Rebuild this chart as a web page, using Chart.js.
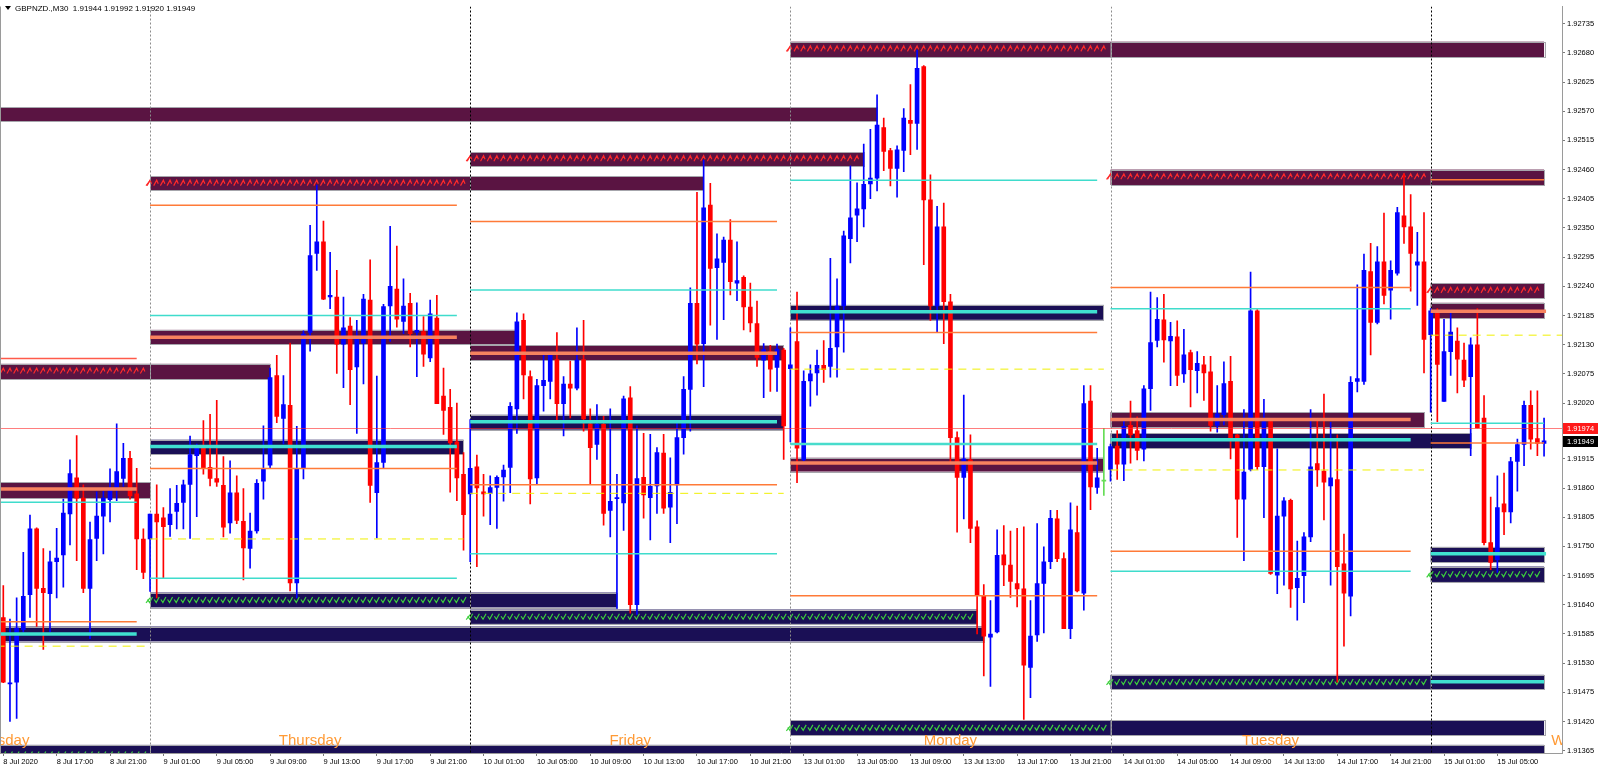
<!DOCTYPE html>
<html>
<head>
<meta charset="utf-8">
<script src="https://cdn.jsdelivr.net/npm/chart.js@4.4.1/dist/chart.umd.min.js"></script>
<style>
  html, body { margin: 0; padding: 0; background: #fff; }
  canvas { display: block; }
</style>
</head>
<body>
<canvas id="chart" width="1600" height="771"></canvas>
<script>
// GBPNZD M30, 8 Jul 13:00 .. 15 Jul 08:30 (bar index 0..231)
const symbol = 'GBPNZD.,M30';

const opens = [
1.91616,1.91491,1.91494,1.91593,1.91659,1.91783,1.91671,1.91661,1.91721,1.91734,
1.91811,1.91879,1.91841,1.91671,1.91765,1.91807,1.91838,1.91859,1.91878,1.91916,
1.91849,1.91764,1.91764,1.91811,1.91804,1.91791,1.91816,1.91833,1.91867,1.91921,
1.91939,1.91899,1.91878,1.91865,1.91794,1.91851,1.91797,1.91746,1.91779,1.91873,
1.91903,1.92072,1.91991,1.92016,1.91681,1.91897,1.92153,1.92302,1.92324,1.92220,
1.92220,1.92131,1.92165,1.92088,1.92133,1.92214,1.91851,1.91908,1.92203,1.92235,
1.92174,1.92208,1.92153,1.92155,1.92105,1.92180,1.92033,1.92012,1.91947,1.91886,
1.91849,1.91900,1.91853,1.91850,1.91861,1.91881,1.91899,1.92009,1.92176,1.92070,
1.91879,1.92053,1.92061,1.92102,1.92019,1.92056,1.92048,1.92102,1.91981,1.91942,
1.91980,1.91818,1.91840,1.91832,1.92030,1.91640,1.91880,1.91842,1.91864,1.91926,
1.91824,1.91866,1.91955,1.92046,1.92208,1.92132,1.92393,1.92275,1.92285,1.92327,
1.92246,1.92257,1.92201,1.92170,1.92101,1.92117,1.92087,1.92120,1.92085,1.92136,
1.91913,1.92062,1.92077,1.92091,1.92089,1.92126,1.92203,1.92330,1.92374,1.92386,
1.92433,1.92444,1.92539,1.92496,1.92462,1.92496,1.92553,1.92547,1.92654,1.92403,
1.92203,1.92352,1.92211,1.91955,1.91880,1.91913,1.91787,1.91656,1.91579,1.91589,
1.91734,1.91715,1.91680,1.91670,1.91522,1.91583,1.91680,1.91721,1.91802,1.91727,
1.91595,1.91776,1.91662,1.92024,1.91861,1.91873,1.91895,1.91939,1.91905,1.91978,
1.91968,1.91933,1.92047,1.92138,1.92177,1.92137,1.92145,1.92075,1.92115,1.92081,
1.92092,1.92079,1.91978,1.91998,1.92061,1.91960,1.91839,1.91895,1.92194,1.91900,
1.91985,1.91696,1.91807,1.91837,1.91672,1.91695,1.91768,1.91906,1.91892,1.91864,
1.91876,1.91717,1.91656,1.92061,1.92061,1.92268,1.92172,1.92286,1.92233,1.92265,
1.92373,1.92352,1.92280,1.92286,1.92149,1.92194,1.92023,1.92117,1.92137,1.92101,
1.92070,1.92130,1.91992,1.91757,1.91725,1.91830,1.91815,1.91910,1.91942,1.92016,
1.91953,1.91944
];
const highs = [
1.91676,1.91613,1.91653,1.91739,1.91809,1.91785,1.91746,1.91741,1.91784,1.91839,
1.91913,1.91959,1.91866,1.91796,1.91853,1.91854,1.91896,1.91981,1.91944,1.91929,
1.91897,1.91783,1.91811,1.91866,1.91823,1.91859,1.91865,1.91875,1.91958,1.91943,
1.91987,1.91999,1.92025,1.91919,1.91911,1.91883,1.91859,1.91813,1.91876,1.91977,
1.92086,1.92110,1.92072,1.92133,1.91976,1.92156,1.92355,1.92431,1.92363,1.92304,
1.92270,1.92220,1.92181,1.92176,1.92225,1.92290,1.92071,1.92206,1.92353,1.92316,
1.92254,1.92227,1.92209,1.92183,1.92214,1.92223,1.92086,1.92046,1.92020,1.91927,
1.91989,1.91922,1.91886,1.91883,1.91883,1.91903,1.92021,1.92190,1.92188,1.92081,
1.92065,1.92110,1.92114,1.92153,1.92070,1.92099,1.92162,1.92176,1.92009,1.92017,
1.91995,1.92009,1.91886,1.92033,1.92051,1.91977,1.91963,1.91961,1.91936,1.91961,
1.91917,1.91983,1.92070,1.92237,1.92417,1.92478,1.92434,1.92339,1.92333,1.92366,
1.92324,1.92260,1.92246,1.92212,1.92132,1.92129,1.92131,1.92123,1.92162,1.92229,
1.92081,1.92092,1.92120,1.92138,1.92293,1.92254,1.92344,1.92467,1.92435,1.92508,
1.92536,1.92601,1.92557,1.92500,1.92505,1.92575,1.92620,1.92685,1.92656,1.92450,
1.92391,1.92397,1.92225,1.91966,1.92035,1.91960,1.91798,1.91678,1.91648,1.91781,
1.91789,1.91779,1.91784,1.91787,1.91648,1.91793,1.91749,1.91818,1.91818,1.91738,
1.91832,1.91826,1.92053,1.92053,1.91935,1.91972,1.91943,1.91968,1.91988,1.92024,
1.91994,1.92053,1.92229,1.92219,1.92225,1.92172,1.92175,1.92159,1.92120,1.92117,
1.92108,1.92108,1.92053,1.92098,1.92108,1.91961,1.92008,1.92267,1.92196,1.92027,
1.91987,1.91934,1.91842,1.91839,1.91760,1.91776,1.92008,1.91987,1.92037,1.91984,
1.91960,1.91773,1.92070,1.92243,1.92301,1.92321,1.92315,1.92378,1.92288,1.92389,
1.92452,1.92413,1.92342,1.92379,1.92198,1.92198,1.92178,1.92190,1.92162,1.92133,
1.92143,1.92198,1.92034,1.91843,1.91883,1.91888,1.91918,1.91952,1.92024,1.92043,
1.92043,1.91992
];
const lows = [
1.91493,1.91420,1.91426,1.91589,1.91616,1.91599,1.91556,1.91589,1.91653,1.91673,
1.91753,1.91723,1.91663,1.91576,1.91723,1.91736,1.91796,1.91836,1.91863,1.91839,
1.91706,1.91689,1.91665,1.91653,1.91689,1.91769,1.91783,1.91783,1.91765,1.91806,
1.91886,1.91864,1.91863,1.91768,1.91775,1.91793,1.91687,1.91709,1.91775,1.91839,
1.91898,1.91983,1.91943,1.91666,1.91653,1.91877,1.92118,1.92270,1.92215,1.92198,
1.92076,1.92049,1.92017,1.91963,1.92056,1.91833,1.91766,1.91897,1.92136,1.92163,
1.92151,1.92126,1.92070,1.92089,1.92098,1.92019,1.91961,1.91852,1.91836,1.91743,
1.91721,1.91712,1.91807,1.91791,1.91784,1.91835,1.91851,1.91963,1.92028,1.91830,
1.91868,1.92005,1.92028,1.91988,1.91958,1.91992,1.92045,1.91967,1.91868,1.91914,
1.91790,1.91768,1.91633,1.91780,1.91624,1.91622,1.91803,1.91762,1.91812,1.91812,
1.91757,1.91793,1.91924,1.91967,1.92094,1.92051,1.92167,1.92140,1.92177,1.92224,
1.92213,1.92158,1.92154,1.92089,1.92030,1.92042,1.92042,1.91914,1.91947,1.91870,
1.91911,1.92014,1.92035,1.92059,1.92069,1.92069,1.92116,1.92284,1.92324,1.92352,
1.92405,1.92420,1.92458,1.92429,1.92408,1.92456,1.92488,1.92498,1.92281,1.92176,
1.92154,1.92132,1.91907,1.91777,1.91802,1.91757,1.91585,1.91506,1.91486,1.91587,
1.91676,1.91654,1.91636,1.91424,1.91465,1.91571,1.91587,1.91708,1.91721,1.91595,
1.91576,1.91664,1.91630,1.91819,1.91850,1.91846,1.91873,1.91876,1.91874,1.91907,
1.91913,1.91911,1.92006,1.92126,1.92097,1.92053,1.92053,1.92059,1.92013,1.92039,
1.92025,1.91967,1.91965,1.91979,1.91915,1.91767,1.91723,1.91892,1.91895,1.91804,
1.91697,1.91661,1.91677,1.91635,1.91611,1.91644,1.91759,1.91863,1.91800,1.91677,
1.91494,1.91562,1.91619,1.92041,1.92055,1.92111,1.92169,1.92207,1.92178,1.92261,
1.92321,1.92231,1.92204,1.92077,1.92003,1.91985,1.92023,1.92072,1.92039,1.92051,
1.91921,1.91973,1.91753,1.91706,1.91701,1.91772,1.91794,1.91854,1.91902,1.91933,
1.91921,1.91920
];
const closes = [
1.91494,1.91493,1.91596,1.91656,1.91783,1.91671,1.91663,1.91721,1.91728,1.91813,
1.91887,1.91841,1.91671,1.91763,1.91807,1.91841,1.91859,1.91891,1.91916,1.91845,
1.91764,1.91701,1.91811,1.91796,1.91787,1.91811,1.91831,1.91866,1.91923,1.91939,
1.91897,1.91878,1.91871,1.91786,1.91851,1.91799,1.91747,1.91779,1.91869,1.91896,
1.92068,1.91995,1.92017,1.91681,1.91897,1.92150,1.92298,1.92324,1.92216,1.92223,
1.92131,1.92162,1.92083,1.92140,1.92216,1.91865,1.91908,1.92202,1.92240,1.92178,
1.92203,1.92151,1.92157,1.92112,1.92188,1.92019,1.92006,1.91945,1.91879,1.91810,
1.91897,1.91860,1.91849,1.91861,1.91880,1.91894,1.92014,1.92173,1.92073,1.91877,
1.92053,1.92063,1.92110,1.92019,1.92056,1.92048,1.92101,1.91990,1.91936,1.91980,
1.91812,1.91835,1.91841,1.92028,1.91640,1.91878,1.91847,1.91863,1.91927,1.91822,
1.91852,1.91955,1.92046,1.92208,1.92131,1.92388,1.92274,1.92292,1.92327,1.92249,
1.92251,1.92201,1.92171,1.92106,1.92121,1.92084,1.92122,1.91977,1.92092,1.91935,
1.92061,1.92075,1.92091,1.92083,1.92123,1.92203,1.92335,1.92369,1.92386,1.92432,
1.92444,1.92544,1.92494,1.92462,1.92497,1.92557,1.92547,1.92651,1.92403,1.92203,
1.92352,1.92211,1.91955,1.91880,1.91915,1.91784,1.91657,1.91581,1.91585,1.91733,
1.91715,1.91684,1.91670,1.91526,1.91581,1.91680,1.91721,1.91803,1.91727,1.91595,
1.91781,1.91666,1.92019,1.91862,1.91879,1.91873,1.91938,1.91905,1.91976,1.91960,
1.91931,1.92047,1.92134,1.92178,1.92139,1.92146,1.92072,1.92111,1.92083,1.92095,
1.92077,1.91978,1.92000,1.92057,1.91953,1.91839,1.91890,1.92194,1.91900,1.91985,
1.91699,1.91807,1.91836,1.91670,1.91690,1.91768,1.91900,1.91894,1.91871,1.91879,
1.91712,1.91662,1.92059,1.92066,1.92270,1.92172,1.92286,1.92223,1.92270,1.92379,
1.92352,1.92302,1.92286,1.92140,1.92194,1.92093,1.92117,1.92154,1.92103,1.92063,
1.92130,1.91973,1.91757,1.91720,1.91823,1.91815,1.91910,1.91942,1.92016,1.91952,
1.91944,1.91949
];

// time axis: a label every 8 bars
const xTickBars = [0,8,16,24,32,40,48,56,64,72,80,88,96,104,112,120,128,136,144,152,160,168,176,184,192,200,208,216,224];
const xTickLabels = ['8 Jul 2020','8 Jul 17:00','8 Jul 21:00','9 Jul 01:00','9 Jul 05:00','9 Jul 09:00','9 Jul 13:00','9 Jul 17:00','9 Jul 21:00',
  '10 Jul 01:00','10 Jul 05:00','10 Jul 09:00','10 Jul 13:00','10 Jul 17:00','10 Jul 21:00',
  '13 Jul 01:00','13 Jul 05:00','13 Jul 09:00','13 Jul 13:00','13 Jul 17:00','13 Jul 21:00',
  '14 Jul 01:00','14 Jul 05:00','14 Jul 09:00','14 Jul 13:00','14 Jul 17:00','14 Jul 21:00',
  '15 Jul 01:00','15 Jul 05:00'];
const yTicks = [1.91365,1.91420,1.91475,1.91530,1.91585,1.91640,1.91695,1.91750,1.91805,1.91860,1.91915,1.91970,1.92020,
  1.92075,1.92130,1.92185,1.92240,1.92295,1.92350,1.92405,1.92460,1.92515,1.92570,1.92625,1.92680,1.92735];
const yTickLabels = ['1.91365','1.91420','1.91475','1.91530','1.91585','1.91640','1.91695','1.91750','1.91805','1.91860','1.91915','','1.92020',
  '1.92075','1.92130','1.92185','1.92240','1.92295','1.92350','1.92405','1.92460','1.92515','1.92570','1.92625','1.92680','1.92735'];

// day separators and day names
const separatorBars = [22, 70, 118, 166, 214];
const separatorDark = [false, true, false, false, true];
const dayStarts = [-26, 22, 70, 118, 166, 214];
const dayNames = ['Wednesday','Thursday','Friday','Monday','Tuesday','Wednesday'];

// zones: [fromBar, toBar, top, bottom, zigzag]
const supplyZones = [
  [-1, 131, 1.92577, 1.92550, 0],
  [22, 70, 1.92447, 1.92420, 1],
  [70, 105, 1.92447, 1.92420, 0],
  [70, 129, 1.92493, 1.92466, 1],
  [118, 166, 1.92701, 1.92672, 1],
  [166, 231, 1.92701, 1.92672, 0],
  [166, 214, 1.92460, 1.92431, 1],
  [214, 231, 1.92460, 1.92431, 0],
  [-1, 22, 1.92094, 1.92065, 1],
  [22, 40, 1.92094, 1.92065, 0],
  [22, 77, 1.92158, 1.92131, 0],
  [70, 117, 1.92129, 1.92100, 0],
  [-1, 22, 1.91871, 1.91841, 0],
  [118, 165, 1.91917, 1.91891, 0],
  [166, 213, 1.92003, 1.91974, 0],
  [214, 231, 1.92246, 1.92217, 1],
  [214, 231, 1.92209, 1.92180, 0]
];
const demandZones = [
  [-1, 147, 1.91599, 1.91571, 0],
  [22, 70, 1.91663, 1.91635, 1],
  [70, 92, 1.91663, 1.91635, 0],
  [70, 146, 1.91631, 1.91604, 1],
  [22, 69, 1.91951, 1.91924, 0],
  [70, 117, 1.91998, 1.91970, 0],
  [118, 165, 1.92205, 1.92177, 0],
  [166, 220, 1.91963, 1.91935, 0],
  [118, 166, 1.91422, 1.91394, 1],
  [166, 231, 1.91422, 1.91394, 0],
  [-1, 22, 1.91376, 1.91340, 1],
  [22, 231, 1.91376, 1.91340, 0],
  [166, 214, 1.91508, 1.91481, 1],
  [214, 231, 1.91508, 1.91481, 0],
  [214, 231, 1.91749, 1.91720, 0],
  [214, 231, 1.91712, 1.91683, 1]
];

// level lines: [fromBar, toBar, price]
const coralThick = [[-1,20,1.91858],[22,68,1.92144],[70,116,1.92114],[118,164,1.91907],[166,211,1.91989],[214,231.3,1.92193]];
const turqThick = [[-1,20,1.91585],[22,68,1.91938],[70,116,1.91985],[118,164,1.92192],[166,211,1.91951],[214,231.3,1.91736],[214,231,1.91495]];
const turqMid = [[118,164,1.91943]];
const redThin = [[-1,20,1.92104]];
const orangeThin = [[-1,20,1.91608],[22,68,1.92393],[22,68,1.91897],[70,116,1.92362],[70,116,1.91866],
  [118,164,1.92153],[118,164,1.91657],[166,211,1.92238],[166,211,1.91741],[214,231,1.92441],[214,231,1.91945]];
const turqThin = [[-1,20,1.91833],[22,68,1.92185],[22,68,1.91690],[70,116,1.92233],[70,116,1.91736],[118,164,1.92440],
  [166,211,1.92198],[166,211,1.91703],[214,231,1.91982]];
const yellowDashed = [[-1,22,1.91562],[22,69,1.91764],[70,117,1.91850],[118,165,1.92084],[166,213,1.91894],[214,234,1.92148]];

const askPrice = 1.91974;
const bidPrice = 1.91949;

const N = Math.min(opens.length, highs.length, lows.length, closes.length);
const idx = Array.from({length: N}, (_, i) => i);
const candleColor = i => closes[i] > opens[i] ? '#0000ff' : (closes[i] < opens[i] ? '#ff0000' : '#66dd55');

const FONT = '"Liberation Sans", Arial, sans-serif';

const mt4Plugin = {
  id: 'mt4',
  beforeDatasetsDraw(chart) {
    const { ctx, chartArea: a, scales: { x, y } } = chart;
    ctx.save();
    ctx.beginPath();
    ctx.rect(a.left, a.top, a.right - a.left, a.bottom - a.top);
    ctx.clip();

    function zone(z, fill, zig, up) {
      const x1 = x.getPixelForValue(z[0]), x2 = x.getPixelForValue(z[1]);
      const y1 = y.getPixelForValue(z[2]), y2 = y.getPixelForValue(z[3]);
      ctx.fillStyle = fill;
      ctx.fillRect(x1, y1, x2 - x1, y2 - y1);
      ctx.strokeStyle = '#a6a6ac';
      ctx.lineWidth = 1;
      ctx.strokeRect(Math.round(x1) + 0.5, Math.round(y1) + 0.5, Math.round(x2 - x1), Math.round(y2 - y1));
      if (z[4]) {
        const mid = (y1 + y2) / 2 + (up ? -1 : 0);
        ctx.strokeStyle = zig;
        ctx.lineWidth = 1.2;
        ctx.beginPath();
        for (let b = Math.ceil(z[0]); b < z[1]; b++) {
          const px = x.getPixelForValue(b);
          if (up) {
            // little hooked slash
            ctx.moveTo(px - 3, mid + 3);
            ctx.lineTo(px, mid - 2.5);
            ctx.lineTo(px + 1.5, mid + 1);
          } else {
            // tick mark
            ctx.moveTo(px - 2.5, mid - 0.5);
            ctx.lineTo(px - 0.5, mid + 2.5);
            ctx.lineTo(px + 2.5, mid - 3);
          }
        }
        ctx.stroke();
        // marker in front of the zone
        ctx.beginPath();
        const sx = x.getPixelForValue(z[0]);
        ctx.moveTo(sx - 4, mid + 3);
        ctx.lineTo(sx, mid - 2);
        ctx.stroke();
      }
    }
    supplyZones.forEach(z => zone(z, '#5a1442', '#ff2a2a', true));
    demandZones.forEach(z => zone(z, '#1a0f55', '#3ccf3c', false));

    // period separators
    ctx.lineWidth = 1;
    ctx.setLineDash([2, 2]);
    separatorBars.forEach((b, k) => {
      const px = Math.round(x.getPixelForValue(b)) + 0.5;
      ctx.strokeStyle = separatorDark[k] ? '#000000' : '#8c8c8c';
      ctx.beginPath();
      ctx.moveTo(px, a.top);
      ctx.lineTo(px, a.bottom);
      ctx.stroke();
    });
    ctx.setLineDash([]);

    // day names
    ctx.fillStyle = '#ff9a35';
    ctx.font = '15px ' + FONT;
    ctx.textAlign = 'center';
    ctx.textBaseline = 'alphabetic';
    dayStarts.forEach((b, k) => {
      ctx.fillText(dayNames[k], x.getPixelForValue(b + 24), a.bottom - 8);
    });
    ctx.restore();
  },
  afterDatasetsDraw(chart) {
    const { ctx, chartArea: a, scales: { x, y } } = chart;
    ctx.save();
    ctx.beginPath();
    ctx.rect(a.left, a.top, a.right - a.left, a.bottom - a.top);
    ctx.clip();
    function lines(list, color, width, dash) {
      ctx.strokeStyle = color;
      ctx.lineWidth = width;
      ctx.setLineDash(dash || []);
      list.forEach(l => {
        const py = y.getPixelForValue(l[2]);
        ctx.beginPath();
        ctx.moveTo(x.getPixelForValue(l[0]), py);
        ctx.lineTo(x.getPixelForValue(l[1]), py);
        ctx.stroke();
      });
      ctx.setLineDash([]);
    }
    lines(yellowDashed, '#f0f000', 1, [8, 6]);
    lines(orangeThin, '#ff7a38', 1.5);
    lines(redThin, '#ff5a4a', 1.5);
    lines(turqThin, '#3fdccc', 1.5);
    lines(turqMid, '#48dccc', 2.5);
    lines(coralThick, '#f7825f', 3.5);
    lines(turqThick, '#40e0d0', 3.5);
    // ask line
    const ay = Math.round(y.getPixelForValue(askPrice)) + 0.5;
    ctx.strokeStyle = 'rgba(255,40,40,0.6)';
    ctx.lineWidth = 1;
    ctx.beginPath();
    ctx.moveTo(a.left, ay);
    ctx.lineTo(a.right, ay);
    ctx.stroke();
    ctx.restore();

    // left frame line
    ctx.save();
    ctx.strokeStyle = '#9a9a9a';
    ctx.lineWidth = 1;
    ctx.beginPath();
    ctx.moveTo(0.5, a.top);
    ctx.lineTo(0.5, a.bottom);
    ctx.stroke();
    ctx.restore();
  },
  afterDraw(chart) {
    const { ctx, chartArea: a, scales: { y } } = chart;
    ctx.save();
    // header
    ctx.fillStyle = '#000';
    ctx.beginPath();
    ctx.moveTo(5, 6); ctx.lineTo(11, 6); ctx.lineTo(8, 10); ctx.closePath();
    ctx.fill();
    ctx.font = '8px ' + FONT;
    ctx.textAlign = 'left';
    ctx.textBaseline = 'middle';
    const last = N - 1;
    const f = v => v.toFixed(5);
    ctx.fillText(symbol + '  ' + f(opens[last]) + ' ' + f(highs[last]) + ' ' + f(lows[last]) + ' ' + f(closes[last]), 15, 8.5);

    // price labels on the axis
    function priceBox(price, bg) {
      const py = y.getPixelForValue(price);
      ctx.fillStyle = bg;
      ctx.fillRect(a.right + 1, Math.round(py) - 5, 35, 11);
      ctx.fillStyle = '#fff';
      ctx.font = '7.5px ' + FONT;
      ctx.fillText(f(price), a.right + 5, Math.round(py) + 0.5);
    }
    priceBox(askPrice, '#ff1a1a');
    priceBox(bidPrice, '#000000');
    ctx.restore();
  }
};

const ctx = document.getElementById('chart').getContext('2d');
new Chart(ctx, {
  type: 'bar',
  data: {
    datasets: [
      {
        label: 'wicks',
        data: idx.map(i => ({ x: i, y: [lows[i], highs[i]] })),
        backgroundColor: idx.map(candleColor),
        barThickness: 1,
        grouped: false,
        borderWidth: 0,
        order: 2
      },
      {
        label: 'bodies',
        data: idx.map(i => ({ x: i, y: [opens[i], closes[i]] })),
        backgroundColor: idx.map(candleColor),
        barThickness: 4,
        minBarLength: 1,
        grouped: false,
        borderWidth: 0,
        order: 1
      }
    ]
  },
  options: {
    responsive: false,
    animation: false,
    events: [],
    layout: { padding: 0 },
    plugins: { legend: { display: false }, tooltip: { enabled: false } },
    scales: {
      x: {
        type: 'linear',
        min: -0.495,
        max: 233.69,
        offset: false,
        afterBuildTicks: s => { s.ticks = xTickBars.map(v => ({ value: v })); },
        afterFit: s => { s.height = 18; },
        grid: { display: true, drawOnChartArea: false, offset: false, color: '#7a7a7a', tickLength: 3 },
        border: { display: true, color: '#9a9a9a' },
        ticks: {
          autoSkip: false, maxRotation: 0, minRotation: 0, align: 'start', padding: 1,
          color: '#000', font: { family: FONT, size: 7.5 },
          callback: (v, i) => xTickLabels[i]
        }
      },
      y: {
        position: 'right',
        min: 1.913607,
        max: 1.927673,
        beginAtZero: false,
        afterBuildTicks: s => { s.ticks = yTicks.map(v => ({ value: v })); },
        afterFit: s => { s.width = 38; },
        grid: { display: true, drawOnChartArea: false, color: '#7a7a7a', tickLength: 3 },
        border: { display: true, color: '#9a9a9a' },
        ticks: {
          autoSkip: false, padding: 2, crossAlign: 'near',
          color: '#000', font: { family: FONT, size: 7.5 },
          callback: (v, i) => yTickLabels[i]
        }
      }
    }
  },
  plugins: [mt4Plugin]
});
</script>
</body>
</html>
